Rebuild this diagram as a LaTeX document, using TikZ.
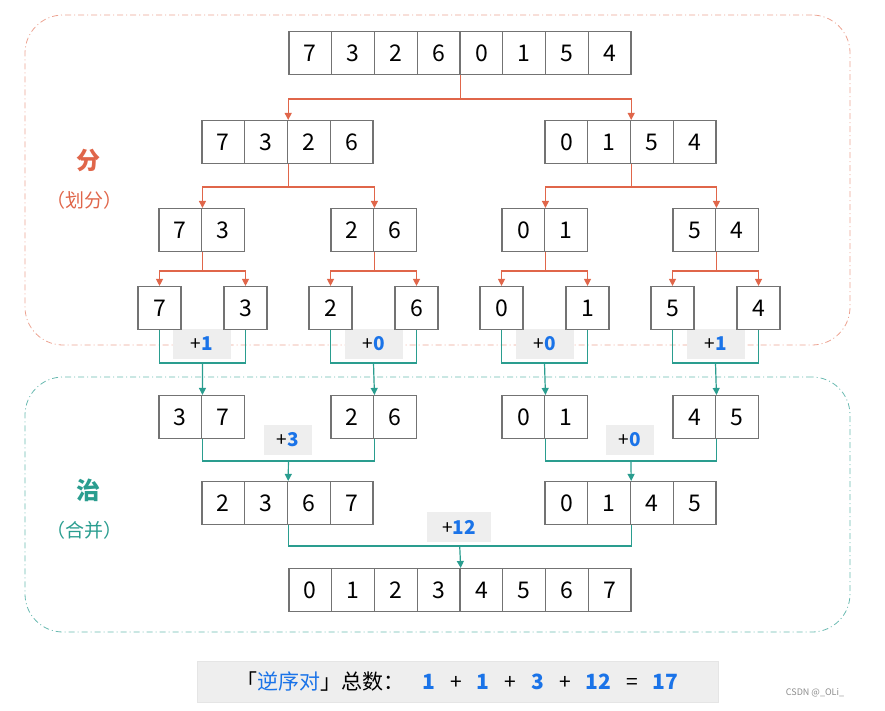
\documentclass[tikz,border=0pt]{standalone}
\usepackage{fontspec}
\setmainfont{Noto Sans CJK SC}
\usetikzlibrary{arrows.meta,calc}
\definecolor{rd}{HTML}{E0664A}
\definecolor{gn}{HTML}{2A9D8F}
\definecolor{bl}{HTML}{1A73E8}
\definecolor{lg}{HTML}{EEEEEE}
\tikzset{
 cell/.style={draw=black!55,line width=1.4pt,minimum size=42.75pt,inner sep=0,font=\fontsize{23}{26}\selectfont},
 rline/.style={rd,line width=1.2pt},
 gline/.style={gn,line width=1.2pt},
 tip/.style={-{Triangle[width=7pt,length=7pt]}},
 cnt/.style={fill=lg,minimum height=30pt,inner sep=0,font=\fontsize{19}{22}\selectfont},
 region/.style={rounded corners=38pt,dash pattern=on 6pt off 3pt on 1pt off 3pt,line width=0.8pt},
}
\newcommand\arr[4]{\foreach \d [count=\i] in {#4} {\node[cell] (#1-\i) at ({#2+(\i-0.5)*42.75},#3) {\d};}}
\newcommand\pl[1]{+\textcolor{bl}{\textbf{#1}}}
\newcommand\bn[1]{\textcolor{bl}{\textbf{#1}}}
\begin{document}
\begin{tikzpicture}[x=1pt,y=-1pt]
\useasboundingbox (0,0) rectangle (885,710);
\node[draw=rd!60,region,minimum width=825pt,minimum height=330pt] (rr) at (437.5,180) {};
\node[draw=gn!70,region,minimum width=825pt,minimum height=255pt] (gr) at (437.5,504.5) {};
\node[rd,font=\fontsize{24}{26}\selectfont\bfseries] (f1) at (88,160) {分};
\node[rd,font=\fontsize{19}{22}\selectfont] (f2) at (84,200) {（划分）};
\node[gn,font=\fontsize{24}{26}\selectfont\bfseries] (z1) at (88,490) {治};
\node[gn,font=\fontsize{19}{22}\selectfont] (z2) at (84,530) {（合并）};
% count boxes
\node[cnt,minimum width=58pt] (k1) at (202,344) {\pl{1}};
\node[cnt,minimum width=58pt] (k2) at (374,344) {\pl{0}};
\node[cnt,minimum width=58pt] (k3) at (545,344) {\pl{0}};
\node[cnt,minimum width=58pt] (k4) at (716,344) {\pl{1}};
\node[cnt,minimum width=48pt] (k5) at (288,440) {\pl{3}};
\node[cnt,minimum width=48pt] (k6) at (630,440) {\pl{0}};
\node[cnt,minimum width=64pt] (k7) at (459,527) {\pl{12}};
% arrays
\arr{a}{289}{53}{7,3,2,6,0,1,5,4}
\arr{b}{202}{142}{7,3,2,6}
\arr{c}{545}{142}{0,1,5,4}
\arr{d}{159}{230}{7,3}
\arr{e}{331}{230}{2,6}
\arr{f}{502}{230}{0,1}
\arr{g}{673}{230}{5,4}
\node[cell] (s1) at (159.5,308) {7};
\node[cell] (s2) at (245.5,308) {3};
\node[cell] (s3) at (330.5,308) {2};
\node[cell] (s4) at (416.5,308) {6};
\node[cell] (s5) at (501.5,308) {0};
\node[cell] (s6) at (587.5,308) {1};
\node[cell] (s7) at (672.5,308) {5};
\node[cell] (s8) at (758.5,308) {4};
\arr{m}{159}{417}{3,7}
\arr{n}{331}{417}{2,6}
\arr{o}{502}{417}{0,1}
\arr{p}{673}{417}{4,5}
\arr{q}{202}{503}{2,3,6,7}
\arr{r}{545}{503}{0,1,4,5}
\arr{t}{289}{590}{0,1,2,3,4,5,6,7}
% split arrows
\draw[rline,tip] (a-4.south east) -- ++(0,24) -| (b-2.north east);
\draw[rline,tip] (a-4.south east) -- ++(0,24) -| (c-2.north east);
\foreach \u/\v/\w in {b-2/d-1/e-1, c-2/f-1/g-1}{
 \draw[rline,tip] (\u.south east) -- ++(0,23) -| (\v.north east);
 \draw[rline,tip] (\u.south east) -- ++(0,23) -| (\w.north east);}
\foreach \u/\v/\w in {d-1/s1/s2, e-1/s3/s4, f-1/s5/s6, g-1/s7/s8}{
 \draw[rline,tip] (\u.south east) -- ++(0,19) -| (\v.north);
 \draw[rline,tip] (\u.south east) -- ++(0,19) -| (\w.north);}
% merge arrows
\foreach \u/\v/\w in {s1/s2/m-1, s3/s4/n-1, s5/s6/o-1, s7/s8/p-1}{
 \draw[gline] (\u.south) -- ++(0,33) -| (\v.south);
 \draw[gline,tip] ($(\u.south)!0.5!(\v.south)+(0,33)$) -- (\w.north east);}
\foreach \u/\v/\w in {m-1/n-1/q-2, o-1/p-1/r-2}{
 \draw[gline] (\u.south east) -- ++(0,22) -| (\v.south east);
 \draw[gline,tip] ($(\u.south east)!0.5!(\v.south east)+(0,22)$) -- (\w.north east);}
\draw[gline] (q-2.south east) -- ++(0,21) -| (r-2.south east);
\draw[gline,tip] ($(q-2.south east)!0.5!(r-2.south east)+(0,21)$) -- (t-4.north east);
% total
\node[fill=lg,draw=black!10,minimum width=521pt,minimum height=41pt,font=\fontsize{21}{24}\selectfont] (tot) at (457.5,681.5)
 {「\textcolor{bl}{逆序对}」总数：\hspace{18pt}\bn{1}\hspace{15pt}+\hspace{15pt}\bn{1}\hspace{15pt}+\hspace{15pt}\bn{3}\hspace{15pt}+\hspace{15pt}\bn{12}\hspace{15pt}=\hspace{15pt}\bn{17}};
\node[black!45,font=\fontsize{9}{11}\selectfont] (cs) at (815,693) {CSDN @\_OLi\_};
\end{tikzpicture}
\end{document}
